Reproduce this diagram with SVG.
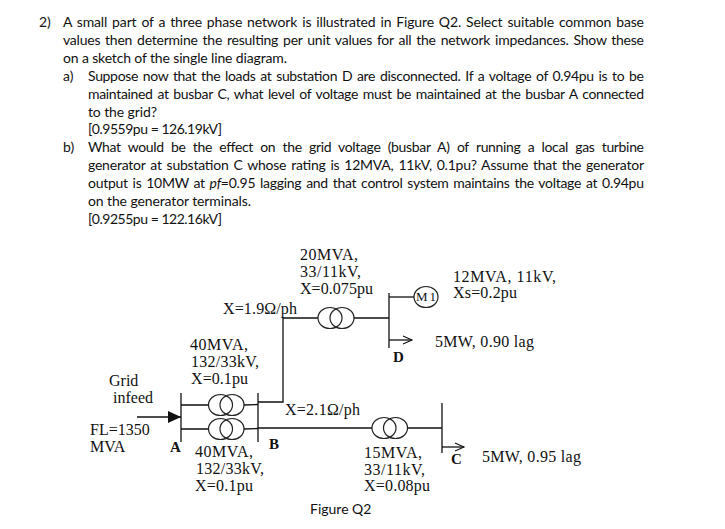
<svg xmlns="http://www.w3.org/2000/svg" width="725" height="529" viewBox="0 0 725 529">
<style>
.b{font-family:"Lato","Open Sans","Liberation Sans",sans-serif;font-size:14px;fill:#111}
.j{word-spacing:1.500px}
.s{font-family:"Liberation Serif",serif;font-size:16px;fill:#111}
.k{font-family:"Liberation Serif",serif;font-size:15px;font-weight:bold;fill:#111}
.l{fill:none;stroke:#111;stroke-width:1.3}
.c{fill:none;stroke:#222;stroke-width:1.2}
</style>
<defs>
<marker id="open" markerWidth="12" markerHeight="10" refX="10" refY="5" orient="auto" markerUnits="userSpaceOnUse"><path d="M1 1L10 5L1 9" fill="none" stroke="#111" stroke-width="1.1"/></marker>
<marker id="solid" markerWidth="14" markerHeight="12" refX="13" refY="6" orient="auto" markerUnits="userSpaceOnUse"><path d="M0 0L13 6L0 12Z" fill="#111"/></marker>
</defs>
<rect width="725" height="529" fill="#fff"/>
<g id="question">
<text class="b" x="39" y="27">2)</text>
<text class="b j" x="63" y="27" textLength="581">A small part of a three phase network is illustrated in Figure Q2. Select suitable common base</text>
<text class="b j" x="63" y="45" textLength="581">values then determine the resulting per unit values for all the network impedances. Show these</text>
<text class="b" x="63" y="63" textLength="224">on a sketch of the single line diagram.</text>
<text class="b" x="63" y="81">a)</text>
<text class="b j" x="88" y="81" textLength="556">Suppose now that the loads at substation D are disconnected. If a voltage of 0.94pu is to be</text>
<text class="b j" x="88" y="99" textLength="556">maintained at busbar C, what level of voltage must be maintained at the busbar A connected</text>
<text class="b" x="88" y="117" textLength="69">to the grid?</text>
<text class="b" x="88" y="134" textLength="134">[0.9559pu = 126.19kV]</text>
<text class="b" x="63" y="152">b)</text>
<text class="b j" x="88" y="152" textLength="556" style="word-spacing:4px">What would be the effect on the grid voltage (busbar A) of running a local gas turbine</text>
<text class="b j" x="88" y="170" textLength="556">generator at substation C whose rating is 12MVA, 11kV, 0.1pu? Assume that the generator</text>
<text class="b j" x="88" y="188" textLength="556">output is 10MW at <tspan font-style="italic">pf</tspan>=0.95 lagging and that control system maintains the voltage at 0.94pu</text>
<text class="b" x="88" y="206" textLength="163">on the generator terminals.</text>
<text class="b" x="88" y="224" textLength="134">[0.9255pu = 122.16kV]</text>
</g>
<g id="connectors">
<path class="l" d="M137 417H181" marker-end="url(#solid)"/>
<path class="l" d="M181 405H208M181 429H208"/>
<path class="l" d="M244 405L258 404.500M244 429L258 428.500"/>
<path class="l" d="M258 402H283V318H318"/>
<path class="l" d="M354 318H389"/>
<path class="l" d="M389 297H414"/>
<path class="l" d="M389 340H412" marker-end="url(#open)"/>
<path class="l" d="M258 428H372"/>
<path class="l" d="M407 428H442"/>
<path class="l" d="M442 447H464" marker-end="url(#open)"/>
</g>
<g id="grid-infeed">
<text class="s" x="109" y="386">Grid</text>
<text class="s" x="113" y="403">infeed</text>
<text class="s" x="90" y="435">FL=1350</text>
<text class="s" x="90" y="452">MVA</text>
</g>
<g id="busbar-A"><path class="l" d="M181 393V442"/><text class="k" x="170" y="452">A</text></g>
<g id="busbar-B"><path class="l" d="M258 393V442"/><text class="k" x="269" y="449">B</text></g>
<g id="busbar-C"><path class="l" d="M442 403V453"/><text class="k" x="451" y="464">C</text></g>
<g id="busbar-D"><path class="l" d="M389 293V348"/><text class="k" x="393" y="362">D</text></g>
<g id="transformer-top">
<ellipse class="c" cx="220.500" cy="405" rx="12" ry="10.500"/><ellipse class="c" cx="232" cy="405" rx="12" ry="10.500"/>
<text class="s" x="190" y="350" textLength="58">40MVA,</text><text class="s" x="191" y="367" textLength="68">132/33kV,</text><text class="s" x="191" y="384" textLength="57">X=0.1pu</text>
</g>
<g id="transformer-bottom">
<ellipse class="c" cx="220.500" cy="429" rx="12" ry="10.500"/><ellipse class="c" cx="232" cy="429" rx="12" ry="10.500"/>
<text class="s" x="195" y="457" textLength="58">40MVA,</text><text class="s" x="196" y="474" textLength="68">132/33kV,</text><text class="s" x="195" y="491" textLength="58">X=0.1pu</text>
</g>
<g id="transformer-D">
<ellipse class="c" cx="330" cy="318" rx="12" ry="10.500"/><ellipse class="c" cx="342" cy="318" rx="12" ry="10.500"/>
<text class="s" x="300" y="260" textLength="58">20MVA,</text><text class="s" x="300" y="277" textLength="61">33/11kV,</text><text class="s" x="300" y="294" textLength="73">X=0.075pu</text>
</g>
<g id="transformer-C">
<ellipse class="c" cx="384" cy="428" rx="12" ry="10.500"/><ellipse class="c" cx="395.500" cy="428" rx="12" ry="10.500"/>
<text class="s" x="364" y="458" textLength="58">15MVA,</text><text class="s" x="364" y="475" textLength="61">33/11kV,</text><text class="s" x="364" y="491" textLength="66">X=0.08pu</text>
</g>
<g id="motor-M1">
<ellipse class="c" cx="426" cy="297" rx="12" ry="10.500"/>
<text class="s" x="416" y="301" textLength="20" style="font-size:13px">M1</text>
<text class="s" x="453" y="282" textLength="103">12MVA, 11kV,</text><text class="s" x="453" y="298" textLength="64">Xs=0.2pu</text>
</g>
<g id="line-labels">
<text class="s" x="223" y="314" textLength="74">X=1.9Ω/ph</text>
<text class="s" x="285" y="415" textLength="75">X=2.1Ω/ph</text>
</g>
<g id="load-D"><text class="s" x="435" y="347" textLength="99">5MW, 0.90 lag</text></g>
<g id="load-C"><text class="s" x="482" y="462" textLength="99">5MW, 0.95 lag</text></g>
<text class="b" x="310" y="514">Figure Q2</text>
</svg>
